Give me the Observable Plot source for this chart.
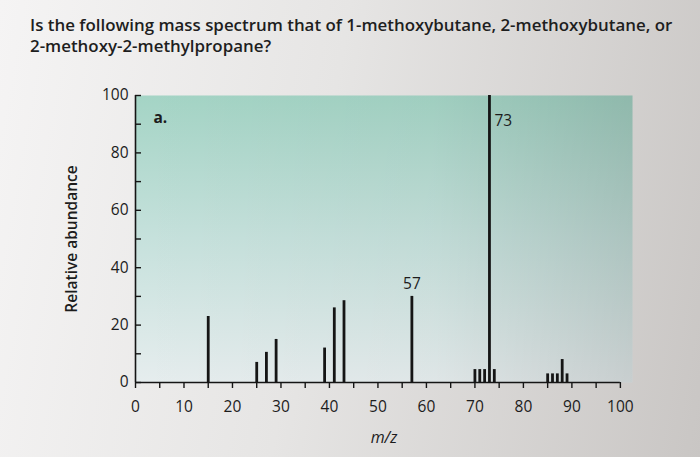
<!DOCTYPE html>
<html>
<head>
<meta charset="utf-8">
<script src="https://cdn.jsdelivr.net/npm/d3@7"></script>
<script src="https://cdn.jsdelivr.net/npm/@observablehq/plot@0.6"></script>
<style>
  html, body { margin: 0; padding: 0; }
  body {
    width: 700px; height: 457px; overflow: hidden;
    background: linear-gradient(100deg, #f5f4f4 0%, #e6e5e4 45%, #c9c6c4 100%);
    font-family: "Open Sans", sans-serif;
  }
  #title {
    position: absolute; left: 30px; top: 14px; width: 670px;
    font-size: 16.9px; font-weight: 600; line-height: 21px; color: #1e1e1e;
    white-space: nowrap;
  }
  #chart { position: absolute; left: 0; top: 62px; }
  #chart svg { background: transparent; overflow: visible; }
  #chart [aria-label="x-axis label"] text { font-style: italic; font-size: 16px; }
  #chart [aria-label="y-axis label"] text { font-weight: 600; font-size: 15.5px; }
</style>
</head>
<body>
<div id="title">Is the following mass spectrum that of 1-methoxybutane, 2-methoxybutane, or<br>2-methoxy-2-methylpropane?</div>
<div id="chart"></div>
<script>
// m/z values of the peaks and their relative abundances
const mz        = [15, 25, 27, 29, 39, 41, 43, 57, 70, 71, 72, 73, 74, 85, 86, 87, 88, 89];
const abundance = [23, 7, 10.5, 15, 12, 26, 28.5, 30, 4.5, 4.5, 4.5, 100, 4.5, 3, 3, 3, 8, 3];
const xTickLabels = [0, 10, 20, 30, 40, 50, 60, 70, 80, 90, 100];
const xTickMarks = d3.range(0, 101, 5);
const yTickLabels = [0, 20, 40, 60, 80, 100];
const yTickMarks = d3.range(0, 101, 10);
const labeledPeaks = [57];
const baseLabel = [73];
const panelLabel = "a.";

const peaks = mz.map((m, i) => ({mz: m, abundance: abundance[i]}));
const labeled = peaks.filter(d => labeledPeaks.includes(d.mz));

const ink = "#151515";

const gradientDefs = () => {
  const defs = document.createElementNS("http://www.w3.org/2000/svg", "defs");
  defs.innerHTML = `
    <linearGradient id="panelV" x1="0" y1="0" x2="0" y2="1">
      <stop offset="0" stop-color="#a4d4c5"/>
      <stop offset="0.5" stop-color="#c6e1dc"/>
      <stop offset="1" stop-color="#e6edee"/>
    </linearGradient>
    <linearGradient id="panelH" x1="0" y1="0" x2="1" y2="0">
      <stop offset="0" stop-color="#000" stop-opacity="0"/>
      <stop offset="0.6" stop-color="#000" stop-opacity="0.03"/>
      <stop offset="1" stop-color="#000" stop-opacity="0.13"/>
    </linearGradient>`;
  return defs;
};

const chart = Plot.plot({
  width: 700,
  height: 395,
  marginLeft: 135,
  marginRight: 68,
  marginTop: 33,
  marginBottom: 75,
  style: {fontFamily: "Open Sans, sans-serif", fontSize: "15px", color: ink, background: "transparent"},
  x: {domain: [0, 102.5]},
  y: {domain: [0, 100]},
  marks: [
    gradientDefs,
    Plot.frame({fill: "url(#panelV)", stroke: "none"}),
    Plot.frame({fill: "url(#panelH)", stroke: "none"}),
    // y axis: line, inward ticks, labels
    Plot.ruleX([0], {stroke: ink, strokeWidth: 1.6}),
    Plot.axisY(yTickMarks, {tickSize: -6, tickFormat: () => "", stroke: ink, strokeWidth: 1.4, label: null}),
    Plot.axisY(yTickLabels, {tickSize: 0, tickPadding: 7, fontSize: 15.5, fill: "#1c1c1c", label: "Relative abundance", labelAnchor: "center", labelOffset: 70, labelArrow: "none"}),
    // x axis
    Plot.ruleY([0], {x1: 0, x2: 100, stroke: ink, strokeWidth: 1.6}),
    Plot.axisX(xTickMarks, {tickSize: 6, tickFormat: () => "", stroke: ink, strokeWidth: 1.4, label: null}),
    Plot.axisX(xTickLabels, {tickSize: 0, tickPadding: 18, fontSize: 15.5, fill: "#1c1c1c", label: "m/z", labelAnchor: "center", labelOffset: 60, labelArrow: "none"}),
    // peaks
    Plot.ruleX(peaks, {x: "mz", y1: 0, y2: "abundance", stroke: ink, strokeWidth: 2.8}),
    Plot.text(labeled, {x: "mz", y: "abundance", text: d => String(d.mz), dy: -12, fontSize: 15.5, fill: "#1c1c1c"}),
    Plot.text(baseLabel, {x: d => d, text: d => String(d), frameAnchor: "top", dy: 19, dx: 5, textAnchor: "start", fontSize: 15.5, fill: "#1c1c1c"}),
    Plot.text([panelLabel], {text: d => d, frameAnchor: "top-left", dx: 18, dy: 16, textAnchor: "start", fontSize: 15.5, fontWeight: "bold", fill: "#1c1c1c"})
  ]
});

document.getElementById("chart").appendChild(chart);
</script>
</body>
</html>
